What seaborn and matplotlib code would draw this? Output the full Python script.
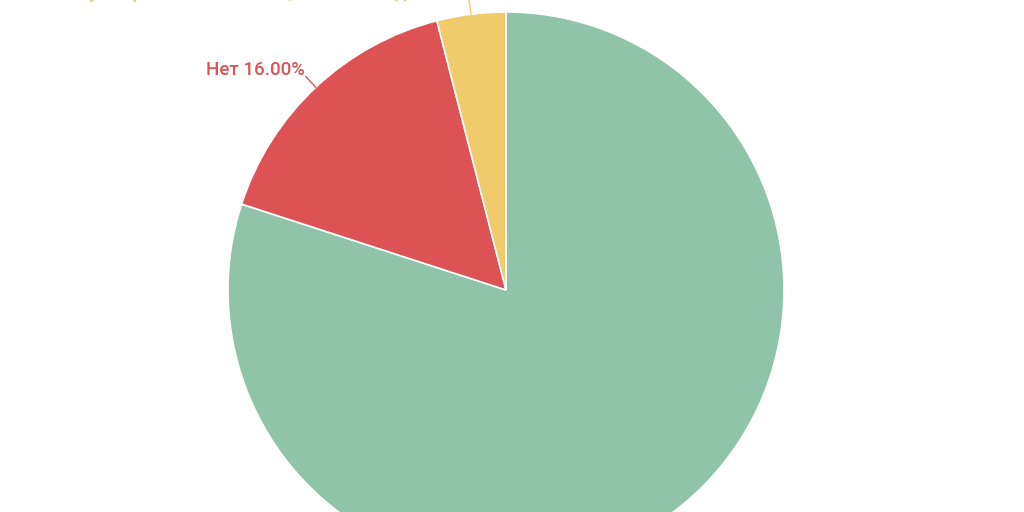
import numpy as np
import seaborn as sns
import matplotlib.pyplot as plt

# answers and their shares (%)
labels = ['Да', 'Нет', 'Пусть решают без меня, какой исход']
shares = [80.0, 16.0, 4.0]
colors = ['#8fc4a8', '#dd5355', '#efcb6b']

sns.set_theme(style='white')
plt.rcParams['font.family'] = ['Roboto', 'DejaVu Sans']

fig = plt.figure(figsize=(10.24, 5.12), dpi=100)
ax = fig.add_axes([0, 0, 1, 1])

cx, cy, r = 506, 512 - 290, 278
wedges, _ = ax.pie(shares, colors=colors, startangle=90, counterclock=False,
                   center=(cx, cy), radius=r, frame=True,
                   wedgeprops=dict(edgecolor='white', linewidth=1.2))
ax.set_xlim(0, 1024)
ax.set_ylim(0, 512)
ax.set_aspect('equal')
ax.axis('off')

# label placement: elbow offset from wedge edge, horizontal tail, alignment
layout = {
    0: dict(p1=(20, -22), p2=(20, 0), ha='left', dy=0),
    1: dict(p1=(-10, 11), p2=(0, 0), ha='right', dy=6),
    2: dict(p1=(-3, 20), p2=(-5, 0), ha='right', dy=1),
}

for i, w in enumerate(wedges):
    ang = np.deg2rad((w.theta1 + w.theta2) / 2)
    x0, y0 = cx + r * np.cos(ang), cy + r * np.sin(ang)
    lay = layout[i]
    x1, y1 = x0 + lay['p1'][0], y0 + lay['p1'][1]
    x2, y2 = x1 + lay['p2'][0], y1 + lay['p2'][1]
    ax.plot([x0, x1, x2], [y0, y1, y2], color=colors[i], lw=1)
    tx = x2 + (2 if lay['ha'] == 'left' else -1)
    ax.text(tx, y2 + lay['dy'], f'{labels[i]} {shares[i]:.2f}%', color=colors[i],
            fontsize=13.5, fontweight='medium', ha=lay['ha'], va='center')

fig.savefig('out.png', dpi=100)
